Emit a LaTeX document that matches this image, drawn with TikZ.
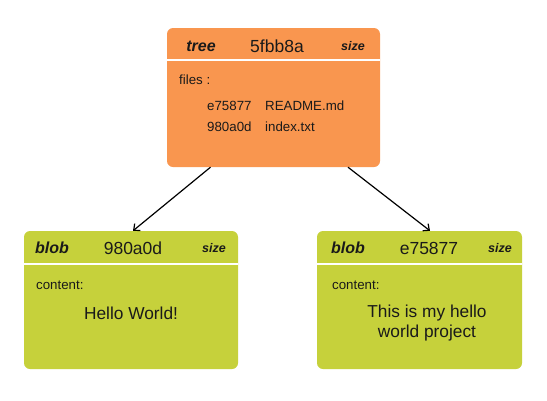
\documentclass[tikz,border=0pt]{standalone}
\usepackage{fontspec}
\setmainfont{Liberation Sans}
\usetikzlibrary{arrows.meta}
\definecolor{treeorange}{HTML}{F9964F}
\definecolor{blobgreen}{HTML}{C6D13B}
\definecolor{txt}{HTML}{1A1A1A}
\tikzset{
  objbox/.style={rounded corners=6pt, minimum width=#1, minimum height=138pt, inner sep=0pt},
  treebox/.style={objbox=213pt, fill=treeorange},
  blobbox/.style={objbox=214pt, fill=blobgreen},
  sep/.style={white, line width=2pt},
  kind/.style={font=\fontsize{16}{19}\selectfont\bfseries\itshape, text=txt, inner sep=0pt},
  hash/.style={font=\fontsize{17.5}{21}\selectfont, text=txt, inner sep=0pt},
  sz/.style={font=\fontsize{12.5}{15}\selectfont\bfseries\itshape, text=txt, inner sep=0pt},
  small/.style={font=\fontsize{13.3}{16}\selectfont, text=txt, inner sep=0pt, anchor=west},
  big/.style={font=\fontsize{17.3}{20}\selectfont, text=txt, inner sep=0pt, align=center},
  link/.style={-{Straight Barb[length=5pt,width=9pt]}, line width=1.2pt, black}
}
\begin{document}
\begin{tikzpicture}[x=1pt,y=-1pt]
\useasboundingbox (0,0) rectangle (547,400);
% tree
\node[treebox, minimum height=139pt] (tree) at (273.5,97.5) {};
\draw[sep] (tree.west |- 0,60) -- (tree.east |- 0,60);
\node[kind] (treekind) at (201,46) {tree};
\node[hash] (treehash) at (277,46) {5fbb8a};
\node[sz] (treesz) at (353,46) {size};
\node[small] (files) at (179,80) {files :};
\node[small] (h1) at (207,106) {e75877};
\node[small] (n1) at (265,106) {README.md};
\node[small] (h2) at (207,127) {980a0d};
\node[small] (n2) at (265,127) {index.txt};
% left blob
\node[blobbox] (blobL) at (131,300) {};
\draw[sep] (blobL.west |- 0,264) -- (blobL.east |- 0,264);
\node[kind] (lkind) at (52,248) {blob};
\node[hash] (lhash) at (133,248) {980a0d};
\node[sz] (lsz) at (214,248) {size};
\node[small] (lcont) at (36,285) {content:};
\node[big] (ltext) at (131,313) {Hello World!};
% right blob
\node[blobbox, minimum width=205pt] (blobR) at (419.5,300) {};
\draw[sep] (blobR.west |- 0,264) -- (blobR.east |- 0,264);
\node[kind] (rkind) at (348,248) {blob};
\node[hash] (rhash) at (429,248) {e75877};
\node[sz] (rsz) at (500,248) {size};
\node[small] (rcont) at (332,285) {content:};
\node[big] (rtext) at (427,323) {This is my hello\\world project};
% links
\draw[link] ([xshift=-63pt]tree.south) -- ([xshift=2pt]blobL.north);
\draw[link] ([xshift=74.5pt]tree.south) -- ([xshift=10.5pt]blobR.north);
\end{tikzpicture}
\end{document}
